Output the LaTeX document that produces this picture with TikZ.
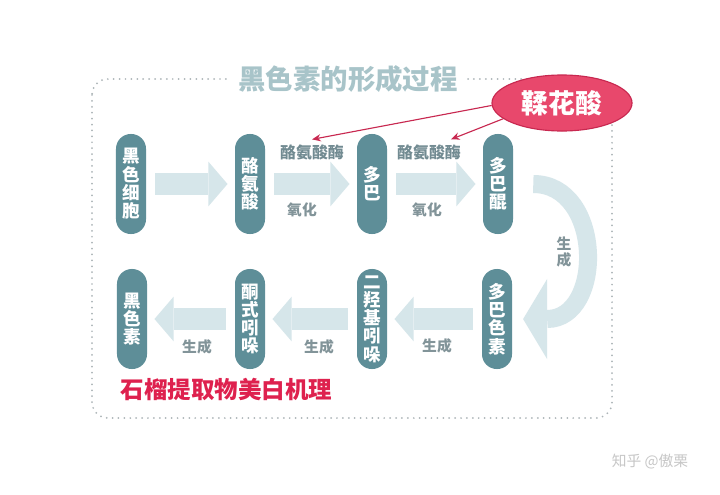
\documentclass[tikz,border=0pt]{standalone}
\usepackage{fontspec}
\setmainfont{Noto Sans CJK SC}
\usepackage{tikz}
\usetikzlibrary{arrows.meta,shapes.geometric,calc}
\definecolor{pillc}{RGB}{94,142,152}
\definecolor{flowc}{RGB}{214,230,234}
\definecolor{framec}{RGB}{172,180,183}
\definecolor{titlec}{RGB}{168,196,201}
\definecolor{enzc}{RGB}{114,139,146}
\definecolor{notec}{RGB}{130,148,153}
\definecolor{rosec}{RGB}{232,72,108}
\definecolor{rosedk}{RGB}{200,40,80}
\definecolor{mechc}{RGB}{222,33,78}
\tikzset{
  pill/.style={fill=pillc, rounded corners=0.37cm, minimum width=0.75cm,
    minimum height=2.5cm, inner sep=0pt, text=white, align=center,
    font=\fontsize{12.5}{13}\selectfont\bfseries},
  bigflow/.style={draw=flowc, line width=0.55cm,
    -{Triangle[length=0.48cm, width=1.12cm, line width=0pt]},
    shorten <=0.22cm, shorten >=0.18cm},
  inhibit/.style={draw=rosedk, line width=0.8pt,
    -{Stealth[length=2.2mm, width=1.8mm]}},
  enzyme/.style={text=enzc, font=\fontsize{11.3}{12}\selectfont\bfseries},
  note/.style={text=notec, align=center,
    font=\fontsize{10.5}{11.5}\selectfont\bfseries},
  agent/.style={ellipse, draw=rosedk, line width=0.8pt, fill=rosec,
    minimum width=3.5cm, minimum height=1.4cm, text=white,
    font=\fontsize{19}{20}\selectfont\bfseries}
}
\begin{document}
\begin{tikzpicture}[x=0.025cm, y=-0.025cm]
  \fill[white] (0,0) rectangle (720,494);
  \useasboundingbox (0,0) rectangle (720,494);

  % dotted frame with its heading
  \draw[framec, line width=1.4pt, line cap=round, dash pattern=on 0pt off 4.2pt,
    rounded corners=0.4cm] (92,79) rectangle (612,418);
  \node[fill=white, inner xsep=6pt, text=titlec,
    font=\fontsize{19.5}{20}\selectfont\bfseries] (ttl) at (348,79)
    {黑色素的形成过程};

  % upper row
  \node[pill] (mc) at (131,184) {黑\\色\\细\\胞};
  \node[pill] (ty) at (250,184) {酪\\氨\\酸};
  \node[pill] (dp) at (372,184) {多\\巴};
  \node[pill] (dq) at (498,184) {多\\巴\\醌};
  % lower row
  \node[pill] (mel) at (132,319) {黑\\色\\素};
  \node[pill] (ki) at (250,319) {酮\\式\\吲\\哚};
  \node[pill] (dhi) at (372,319) {二\\羟\\基\\吲\\哚};
  \node[pill] (dc) at (497,319) {多\\巴\\色\\素};

  \draw[bigflow] (mc) -- (ty);
  \draw[bigflow] (ty) -- (dp);
  \draw[bigflow] (dp) -- (dq);
  \draw[bigflow, line width=0.45cm,
    -{Triangle[length=0.6cm, width=2cm, line width=0pt]},
    shorten <=0.5cm, shorten >=0.27cm]
    (dq.east) .. controls +(90,0) and +(92,0) .. (dc.east);
  \draw[bigflow] (dc) -- (dhi);
  \draw[bigflow] (dhi) -- (ki);
  \draw[bigflow] (ki) -- (mel);

  \node[enzyme] (en1) at (312,152) {酪氨酸酶};
  \node[enzyme] (en2) at (429,152) {酪氨酸酶};
  \node[note] (ox1) at (302,210) {氧化};
  \node[note] (ox2) at (427,210) {氧化};
  \node[note] (g1) at (437,346) {生成};
  \node[note] (g2) at (319,347) {生成};
  \node[note] (g3) at (197,347) {生成};
  \node[note] (g4) at (564,252) {生\\成};

  \node[agent] (rs) at (562,103) {鞣花酸};
  \draw[inhibit] (rs.182) -- (en1.north);
  \draw[inhibit] (rs.195) -- (en2.30);

  \node[anchor=west, text=mechc, font=\fontsize{16.7}{18}\selectfont\bfseries]
    (mech) at (116,389) {石榴提取物美白机理};
  \node[text=black!22, font=\fontsize{10.5}{11}\selectfont] (wm) at (650,462)
    {知乎 @傲栗};
\end{tikzpicture}
\end{document}
